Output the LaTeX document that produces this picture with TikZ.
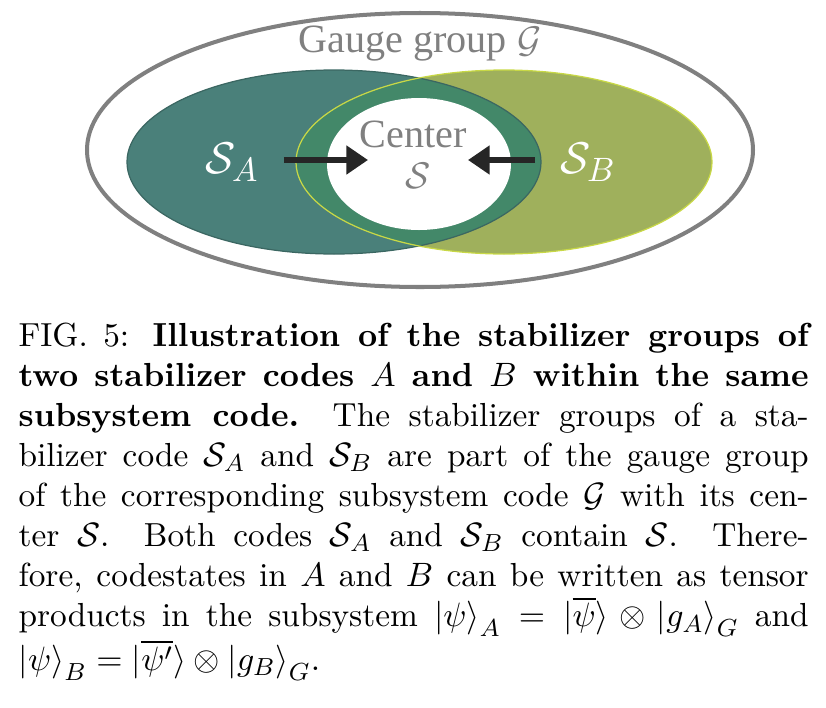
\documentclass[tikz,border=0pt]{standalone}
\usepackage{amsmath,amssymb}
\usepackage{fontspec}
\newfontfamily\figfont{Liberation Serif}
\usetikzlibrary{arrows.meta}
\definecolor{tealA}{RGB}{74,128,122}
\definecolor{oliveB}{RGB}{159,176,92}
\definecolor{lensG}{RGB}{67,136,105}
\definecolor{rimB}{RGB}{200,216,70}
\definecolor{labelgray}{RGB}{128,128,128}

\begin{document}
\begin{tikzpicture}[x=0.324pt,y=-0.324pt,
  setlabel/.style={font=\figfont\fontsize{15}{17}\selectfont,text=white},
  graylabel/.style={font=\figfont\fontsize{13}{15}\selectfont,text=labelgray},
  fatarrow/.style={line width=2.2pt,draw=black!85,-{Triangle[length=7pt,width=9pt]}}]
  \useasboundingbox (0,0) rectangle (826,708);

  % sets
  \fill[tealA] (334,162) ellipse [x radius=207,y radius=92];
  \fill[oliveB] (504,162) ellipse [x radius=208,y radius=92];
  \begin{scope}
    \clip (334,162) ellipse [x radius=207,y radius=92];
    \fill[lensG] (504,162) ellipse [x radius=208,y radius=92];
  \end{scope}
  \draw[tealA!80!black,thin] (334,162) ellipse [x radius=207,y radius=92];
  \draw[rimB,thin] (504,162) ellipse [x radius=208,y radius=92];
  \fill[white] (419,164) ellipse [x radius=92,y radius=66];
  \draw[labelgray,line width=1.3pt] (420,150) ellipse [x radius=333,y radius=137];

  % labels
  \node[graylabel] (gauge) at (420,44) {Gauge group $\mathcal{G}$};
  \node[graylabel] (center) at (413,134) {Center};
  \node[graylabel] (cS) at (418,176) {$\mathcal{S}$};
  \node[setlabel] (SA) at (232,162) {$\mathcal{S}_A$};
  \node[setlabel] (SB) at (588,162) {$\mathcal{S}_B$};
  \coordinate (tipA) at (368,160);
  \coordinate (tipB) at (468,160);
  \draw[fatarrow] (SA.east) ++(14,-2) -- (tipA);
  \draw[fatarrow] (SB.west) ++(-14,-2) -- (tipB);

  % caption
  \node[anchor=north west,inner sep=0pt,text width=256pt,align=justify,font=\fontsize{10.8}{13}\selectfont] (caption) at (18,322) {%
  FIG. 5: \textbf{Illustration of the stabilizer groups of two stabilizer codes $A$ and $B$ within the same subsystem code.}\quad The stabilizer groups of a sta-\linebreak bilizer code $\mathcal{S}_A$ and $\mathcal{S}_B$ are part of the gauge group of the corresponding subsystem code $\mathcal{G}$ with its cen-\linebreak ter $\mathcal{S}$. Both codes $\mathcal{S}_A$ and $\mathcal{S}_B$ contain $\mathcal{S}$. There-\linebreak fore, codestates in $A$ and $B$ can be written as tensor\linebreak products in the subsystem $\left|\psi\right\rangle_A=|\overline{\psi}\rangle\otimes\left|g_A\right\rangle_G$ and\linebreak $\left|\psi\right\rangle_B=|\overline{\psi'}\rangle\otimes\left|g_B\right\rangle_G$.\par};
\end{tikzpicture}
\end{document}
